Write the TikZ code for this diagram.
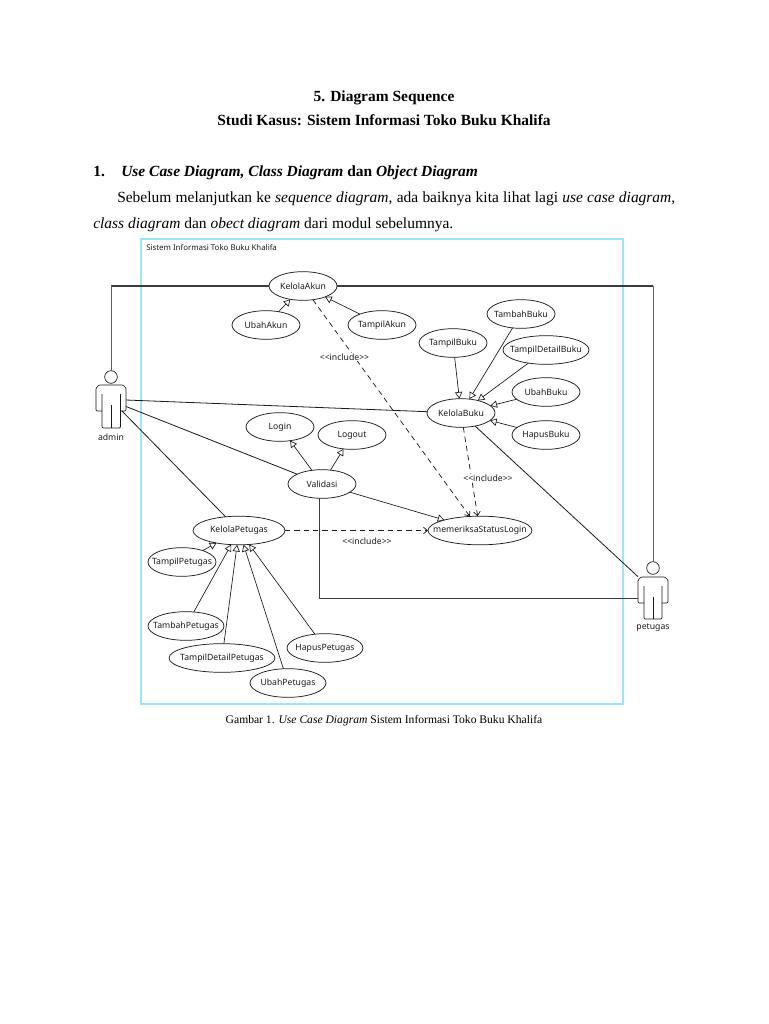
\documentclass[tikz,border=0pt]{standalone}
\usepackage{fontspec}
\setmainfont{Liberation Serif}
\newfontfamily\umlfont{Noto Sans}
\usetikzlibrary{arrows.meta,shapes.geometric}
\newcommand{\lbl}[1]{\makebox[0pt][c]{#1}}
\definecolor{ink}{HTML}{1A1A1A}
\definecolor{frame}{HTML}{9AE4FF}
\tikzset{
  uc/.style={ellipse,draw=ink,line width=.55pt,inner sep=0pt,outer sep=0pt,minimum height=21.5pt,minimum width=#1*1.5pt,font=\umlfont\fontsize{6.5}{7}\selectfont,text=ink},
  lab/.style={font=\umlfont\fontsize{6.5}{7}\selectfont,text=ink,inner sep=0pt},
  inclab/.style={lab,fill=white,inner sep=.8pt},
  assoc/.style={draw=ink,line width=.6pt},
  gen/.style={draw=ink,line width=.5pt,-{Triangle[open,length=5pt,width=5.5pt,fill=white]}},
  incl/.style={draw=ink,line width=.55pt,dash pattern=on 4pt off 3pt,-{Straight Barb[length=3pt,width=5pt]}},
  actorbody/.style={minimum width=22.5pt,minimum height=32pt,inner sep=0pt,outer sep=0pt},
  head/.style={circle,draw=ink,line width=.5pt,minimum size=9.5pt,inner sep=0pt,outer sep=0pt},
  limb/.style={draw=ink,line width=.5pt,rounded corners=.8pt},
  doc/.style={inner sep=0pt,text=black,font=\fontsize{11.6}{14}\selectfont},
  docb/.style={inner sep=0pt,text=black,font=\fontsize{11.6}{14}\selectfont\bfseries}
}
\begin{document}
\begin{tikzpicture}[x=.75pt,y=-.75pt]
\useasboundingbox (0,0) rectangle (768,1024);
\fill[white] (0,0) rectangle (768,1024);
% page text
\node[docb,anchor=base] (t1) at (384,101) {5. Diagram Sequence};
\node[docb,anchor=base] (t2) at (384,125) {Studi Kasus: Sistem Informasi Toko Buku Khalifa};
\node[docb,anchor=base west] (t3) at (93,176) {1.};
\node[docb,anchor=base west] (t4) at (121,176) {\itshape Use Case Diagram, Class Diagram \upshape dan \itshape Object Diagram};
\node[doc,anchor=base west] (t5) at (117,202) {\hbox to 418.5pt{Sebelum melanjutkan ke \textit{sequence diagram}, ada baiknya kita lihat lagi \textit{use case diagram},}};
\node[doc,anchor=base west] (t6) at (93,228) {\textit{class diagram} dan \textit{obect diagram} dari modul sebelumnya.};
\node[doc,font=\fontsize{8.7}{10}\selectfont] (t7) at (384,721) {Gambar 1. \textit{Use Case Diagram} Sistem Informasi Toko Buku Khalifa};
% system boundary
\node[draw=frame,line width=.8pt,minimum width=361.5pt,minimum height=348.75pt,inner sep=0pt] (sys) at (382,471.5) {};
\node[lab,anchor=west,font=\umlfont\fontsize{5.9}{7}\selectfont] (syslabel) at (146,248) {Sistem Informasi Toko Buku Khalifa};
% use cases
\node[uc=34] (KelolaAkun) at (303,286) {\lbl{KelolaAkun}};
\node[uc=34] (UbahAkun) at (266,325) {\lbl{UbahAkun}};
\node[uc=34] (TampilAkun) at (382,325) {\lbl{TampilAkun}};
\node[uc=34] (Login) at (280,427) {\lbl{Login}};
\node[uc=34] (Logout) at (352,435) {\lbl{Logout}};
\node[uc=34] (Validasi) at (322,484) {\lbl{Validasi}};
\node[uc=34] (TambahBuku) at (521,314) {\lbl{TambahBuku}};
\node[uc=34] (TampilBuku) at (453,343) {\lbl{TampilBuku}};
\node[uc=43] (TampilDetailBuku) at (546,350) {\lbl{TampilDetailBuku}};
\node[uc=34] (UbahBuku) at (546,392) {\lbl{UbahBuku}};
\node[uc=34] (HapusBuku) at (546,435) {\lbl{HapusBuku}};
\node[uc=34] (KelolaBuku) at (461,413) {\lbl{KelolaBuku}};
\node[uc=52] (Status) at (480,530.5) {\lbl{memeriksaStatusLogin}};
\node[uc=46] (KelolaPetugas) at (239,530.5) {\lbl{KelolaPetugas}};
\node[uc=34] (TampilPetugas) at (182,562) {\lbl{TampilPetugas}};
\node[uc=38] (TambahPetugas) at (186,626) {\lbl{TambahPetugas}};
\node[uc=53] (TampilDetailPetugas) at (222,658) {\lbl{TampilDetailPetugas}};
\node[uc=38] (HapusPetugas) at (325,648) {\lbl{HapusPetugas}};
\node[uc=38] (UbahPetugas) at (288,683) {\lbl{UbahPetugas}};
% actors
\node[actorbody] (admin) at (111,406.5) {};
\node[head] (adminHead) at (111,377) {};
\node[lab] (adminLabel) at (111,437) {admin};
\draw[limb] (102,411) -- (96,411) -- (96,388) -- (99,385) -- (123,385) -- (126,388) -- (126,411) -- (120.5,411);
\draw[limb] (102,394) -- (102,428) -- (120.5,428) -- (120.5,394);
\draw[limb] (111,405) -- (111,428);
\node[actorbody] (petugas) at (653,598) {};
\node[head] (petugasHead) at (653,568) {};
\node[lab] (petugasLabel) at (653,628) {petugas};
\draw[limb] (644,603) -- (638,603) -- (638,580) -- (641,577) -- (665,577) -- (668,580) -- (668,603) -- (662,603);
\draw[limb] (644,586) -- (644,619) -- (662,619) -- (662,586);
\draw[limb] (653,597) -- (653,619);
% helper points
\coordinate (cornerL) at (111,286);
\coordinate (cornerR) at (653,286);
\coordinate (adminPort) at (122,411);
\coordinate (adminTop) at (126,400);
% associations
\draw[draw=ink!85,line width=1.1pt] (KelolaAkun.west) -- (cornerL);
\draw[draw=ink!85,line width=1.1pt] (KelolaAkun.east) -- (cornerR);
\draw[draw=ink!70,line width=.6pt] (cornerL) -- (adminHead.north);
\draw[draw=ink!70,line width=.6pt] (cornerR) -- (petugasHead.north);
\draw[assoc] (adminTop) -- (KelolaBuku);
\draw[assoc] (admin.east) -- (Validasi);
\draw[assoc] (adminPort) -- (KelolaPetugas);
\draw[assoc] (KelolaBuku) -- (petugas.north west);
\draw[assoc,draw=ink!85,line width=.75pt] ([xshift=-2.25pt]Validasi.south) |- (petugas.west);
% generalisations
\draw[gen] (UbahAkun) -- (KelolaAkun);
\draw[gen] (TampilAkun) -- (KelolaAkun);
\draw[gen] (Validasi) -- (Login);
\draw[gen] (Validasi) -- (Logout);
\draw[gen] (Validasi) -- (Status);
\draw[gen] (TambahBuku) -- (KelolaBuku);
\draw[gen] (TampilBuku) -- (KelolaBuku);
\draw[gen] (TampilDetailBuku) -- (KelolaBuku);
\draw[gen] (UbahBuku) -- (KelolaBuku);
\draw[gen] (HapusBuku) -- (KelolaBuku);
\draw[gen] (TampilPetugas) -- (KelolaPetugas);
\draw[gen] (TambahPetugas) -- (KelolaPetugas);
\draw[gen] (TampilDetailPetugas) -- (KelolaPetugas);
\draw[gen] (UbahPetugas) -- (KelolaPetugas);
\draw[gen] (HapusPetugas) -- (KelolaPetugas);
% includes
\draw[incl] (KelolaAkun) -- (Status);
\draw[incl] (KelolaBuku) -- (Status);
\draw[incl] (KelolaPetugas) -- (Status);
\node[inclab] (inc1) at (344.5,357) {<{}<include>{}>};
\node[inclab] (inc2) at (488,478) {<{}<include>{}>};
\node[inclab] (inc3) at (367,541) {<{}<include>{}>};
\end{tikzpicture}
\end{document}
